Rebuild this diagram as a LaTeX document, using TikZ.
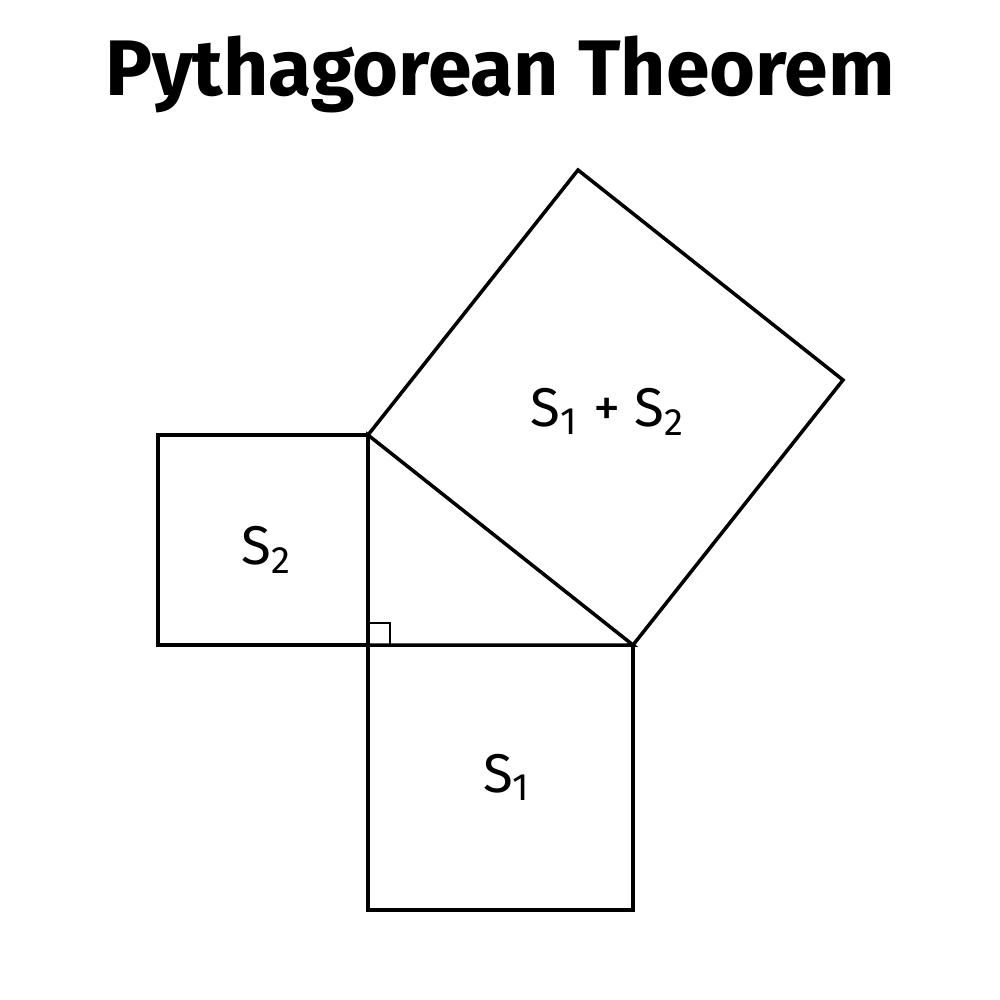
\documentclass[tikz,border=0pt]{standalone}
\usepackage{fontspec}
\setmainfont{Fira Sans}
\begin{document}
\begin{tikzpicture}[x=0.01cm,y=-0.01cm,
  edge/.style={line width=1pt, line join=miter},
  thin/.style={line width=0.3pt},
  lab/.style={font=\fontsize{15.5}{18}\selectfont}]
\useasboundingbox[fill=white] (0,0) rectangle (1000,1000);
\node[font=\fontsize{22.4}{27}\selectfont\bfseries] (title) at (500,74) {Pythagorean Theorem};
% triangle vertices
\coordinate (C) at (368,645);
\coordinate (A) at (368,435);
\coordinate (B) at (633,645);
\coordinate (D) at (843,380);
\coordinate (E) at (578,170);
% square S2
\draw[edge] (A) -- (158,435) -- (158,645) -- (C);
% square S1
\draw[edge] (C) -- (368,910) -- (633,910) -- (B);
% hypotenuse square
\draw[edge] (A) -- (E) -- (D) -- (B);
% triangle
\draw[edge] (A) -- (C) -- (B) -- cycle;
% right angle mark
\draw[thin] (368,623) -- (390,623) -- (390,645);
\node[lab] (s2) at (267,550) {S\textsubscript{2}};
\node[lab] (s1) at (507,777) {S\textsubscript{1}};
\node[lab] (s12) at (608,412) {S\textsubscript{1} + S\textsubscript{2}};
\end{tikzpicture}
\end{document}
